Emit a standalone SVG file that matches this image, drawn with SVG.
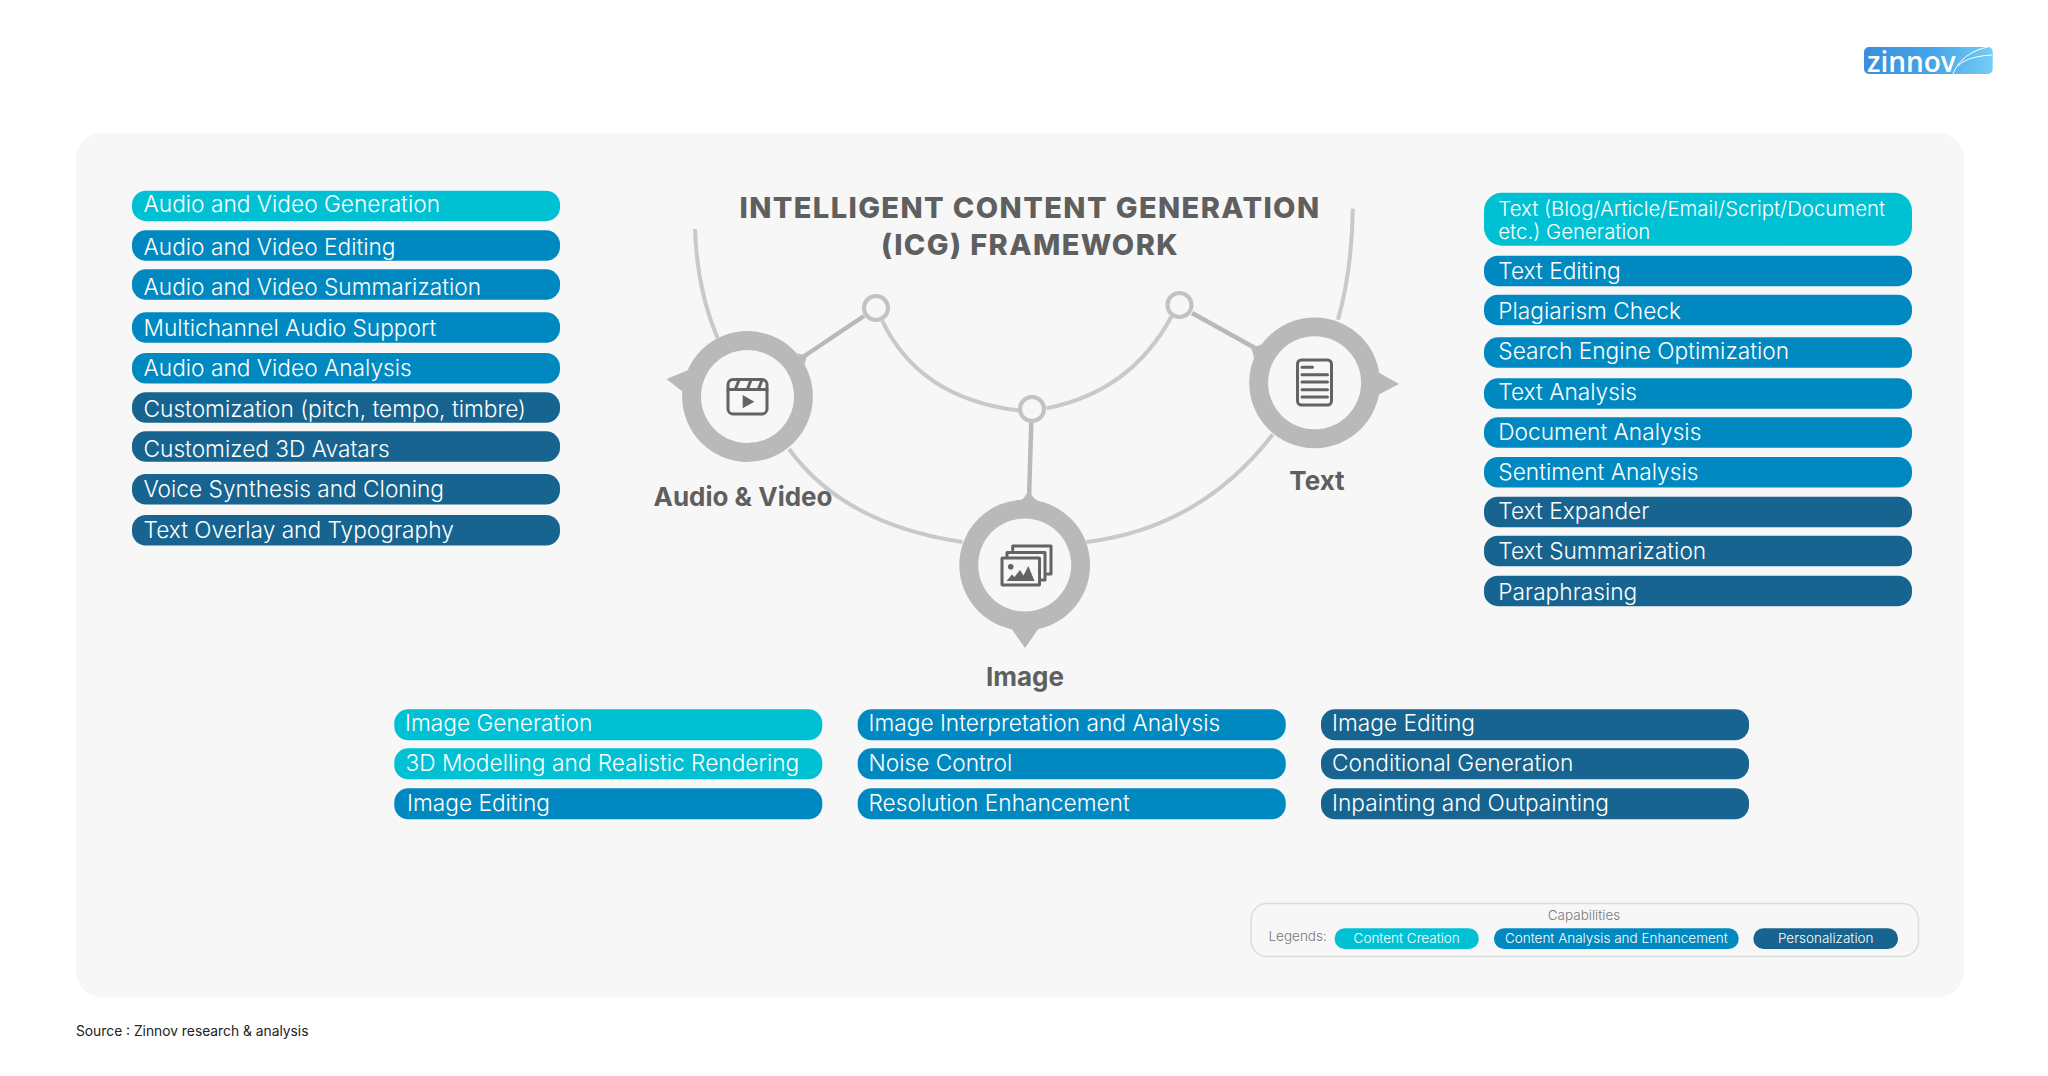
<svg xmlns="http://www.w3.org/2000/svg" width="2048" height="1076" viewBox="0 0 2048 1076">
<defs>
<linearGradient id="logoGrad" x1="0" y1="0" x2="1" y2="0"><stop offset="0" stop-color="#3a8edb"/><stop offset="0.55" stop-color="#46a6e8"/><stop offset="1" stop-color="#74cdf6"/></linearGradient>
</defs>
<style>
text{font-family:"Inter","Liberation Sans",sans-serif}
.pill{rx:14px;ry:14px}
.c{fill:#00c1d4}.b{fill:#0089c0}.d{fill:#16648f}
.t{font-size:22.700px;fill:#fff;font-weight:350}
.t2{font-size:20.400px;fill:#fff;font-weight:350}
.l{font-size:13.500px;fill:#fff;text-anchor:middle;font-weight:350}
.g{font-size:13.500px;fill:#777;font-weight:350}
.h{font-size:29px;font-weight:800;fill:#5f5f5f;text-anchor:middle;letter-spacing:1.400px}
.lab{font-size:26px;font-weight:700;fill:#5f5f5f;text-anchor:middle}
.thin{fill:none;stroke:#c9c9c9;stroke-width:4}
.thick{fill:none;stroke:#b9b9b9;stroke-width:4.500}
.big{fill:#b9b9b9}
.ic{fill:none;stroke:#636363;stroke-width:3;stroke-linejoin:round;stroke-linecap:round}
.if{fill:#636363}
</style>
<rect id="panel" x="76" y="133" width="1888" height="864" rx="26" fill="#f7f7f7"/>
<g id="logo">
<rect x="1864" y="47" width="128.700" height="27" rx="5" fill="url(#logoGrad)"/>
<text x="1867" y="71.500" style="font-family:'Open Sans','Liberation Sans',sans-serif;font-size:28px;font-weight:600" fill="#fff">zinnov</text>
<path d="M1953 74C1958 60 1972 50 1988 47M1958 66C1966 58 1978 56 1992 55" fill="none" stroke="#fff" stroke-width="1"/>
</g>
<g id="title">
<text class="h" x="1030" y="218">INTELLIGENT CONTENT GENERATION</text>
<text class="h" x="1030" y="255">(ICG) FRAMEWORK</text>
</g>
<g id="connectors">
<path class="thin" d="M695 229Q697 290 717.600 338"/>
<path class="thin" d="M1352.800 208.600Q1352 270 1338 319.800"/>
<path class="thin" d="M882.300 320.800Q919.500 398.400 1018.600 410.400"/>
<path class="thin" d="M1171.600 316.300Q1131 391.700 1046.600 408.300"/>
<path class="thin" d="M789 449Q844 524.500 962.400 542"/>
<path class="thin" d="M1272.700 434.500Q1200.500 528 1086.400 542"/>
<path class="thick" d="M794 363L864 316"/>
<path class="thick" d="M1192 313L1264 353"/>
<path class="thick" d="M1031.300 423L1028.800 505"/>
<path class="big" d="M797 353Q803 356 808.400 353.900Q805 359 805 365ZM1254 358Q1253 351 1250 345.500Q1256 347.500 1262 344ZM1020 501Q1026 497 1028.800 489Q1031 497 1038 501Z"/>
</g>
<g id="junction-a"><circle cx="876" cy="308" r="12" fill="#f7f7f7" stroke="#c2c2c2" stroke-width="4"/></g>
<g id="junction-b"><circle cx="1179.500" cy="305" r="12" fill="#f7f7f7" stroke="#c2c2c2" stroke-width="4"/></g>
<g id="junction-c"><circle cx="1032" cy="409" r="12" fill="#f7f7f7" stroke="#c2c2c2" stroke-width="4"/></g>
<g id="node-audio-video">
<path class="big" d="M691 369L666.500 379L683 392Z"/>
<circle cx="747.500" cy="396.500" r="65.400" class="big"/>
<circle cx="747.500" cy="396.500" r="46.500" fill="#f7f7f7"/>
<rect class="ic" x="728" y="379.500" width="39" height="34.500" rx="5"/>
<path class="ic" d="M728 389.500H767M739 380L735.500 389M751 380L747.500 389M762 380L758.500 389" stroke-width="2.500"/>
<path class="if" d="M742.700 395L754.300 401.700L742.700 408.300Z"/>
<text class="lab" x="743" y="506">Audio &amp; Video</text>
</g>
<g id="node-image">
<path class="big" d="M1011 628L1025 648L1039 628Z"/>
<circle cx="1024.700" cy="565" r="65.400" class="big"/>
<circle cx="1024.700" cy="565" r="46.500" fill="#f7f7f7"/>
<rect class="ic" x="1002" y="558" width="37.500" height="27" rx="0.500" stroke-width="2.500"/>
<path class="ic" d="M1007 556V552.500H1045V580H1041.500M1012.700 550V546H1051V574H1047.500" stroke-width="2.500"/>
<circle class="if" cx="1010.700" cy="566.700" r="2.800"/>
<path class="if" d="M1006.500 581L1012 574.500L1014.500 577L1020 570L1023.500 575.500L1028.300 566L1034.500 581Z"/>
<text class="lab" x="1025" y="685.500">Image</text>
</g>
<g id="node-text">
<path class="big" d="M1376 371L1399 384L1376 396Z"/>
<circle cx="1314.600" cy="382.800" r="65.400" class="big"/>
<circle cx="1314.600" cy="382.800" r="46.500" fill="#f7f7f7"/>
<rect class="ic" x="1297.500" y="360" width="34" height="45" rx="4" stroke-width="2.500"/>
<path class="ic" d="M1302 367.300H1312.500M1302 374.700H1327.500M1302 382H1327.500M1302 389.700H1327.500M1302 397H1327.500" stroke-width="2.500"/>
<text class="lab" x="1317" y="489.500">Text</text>
</g>
<g id="audio-list">
<g id="av-1"><rect class="pill c" x="132" y="190.700" width="428" height="30.500"/><text class="t" x="143.500" y="212">Audio and Video Generation</text></g>
<g id="av-2"><rect class="pill b" x="132" y="230.300" width="428" height="30.500"/><text class="t" x="143.500" y="254.500">Audio and Video Editing</text></g>
<g id="av-3"><rect class="pill b" x="132" y="269.300" width="428" height="30.500"/><text class="t" x="143.500" y="295">Audio and Video Summarization</text></g>
<g id="av-4"><rect class="pill b" x="132" y="312.300" width="428" height="30.500"/><text class="t" x="143.500" y="335.500">Multichannel Audio Support</text></g>
<g id="av-5"><rect class="pill b" x="132" y="353" width="428" height="30.500"/><text class="t" x="143.500" y="375.800">Audio and Video Analysis</text></g>
<g id="av-6"><rect class="pill d" x="132" y="392.300" width="428" height="30.500"/><text class="t" x="143.500" y="416.500">Customization (pitch, tempo, timbre)</text></g>
<g id="av-7"><rect class="pill d" x="132" y="431.300" width="428" height="30.500"/><text class="t" x="143.500" y="457">Customized 3D Avatars</text></g>
<g id="av-8"><rect class="pill d" x="132" y="474" width="428" height="30.500"/><text class="t" x="143.500" y="497">Voice Synthesis and Cloning</text></g>
<g id="av-9"><rect class="pill d" x="132" y="515" width="428" height="30.500"/><text class="t" x="143.500" y="537.800">Text Overlay and Typography</text></g>
</g>
<g id="text-list">
<g id="tx-1"><rect x="1484" y="192.700" width="428" height="53" rx="18" class="c"/><text class="t2" x="1498.300" y="215.700">Text (Blog/Article/Email/Script/Document</text><text class="t2" x="1498.300" y="239">etc.) Generation</text></g>
<g id="tx-2"><rect class="pill b" x="1484" y="255.700" width="428" height="30.500"/><text class="t" x="1498.300" y="278.500">Text Editing</text></g>
<g id="tx-3"><rect class="pill b" x="1484" y="294.700" width="428" height="30.500"/><text class="t" x="1498.300" y="318.800">Plagiarism Check</text></g>
<g id="tx-4"><rect class="pill b" x="1484" y="337.300" width="428" height="30.500"/><text class="t" x="1498.300" y="359.300">Search Engine Optimization</text></g>
<g id="tx-5"><rect class="pill b" x="1484" y="378.300" width="428" height="30.500"/><text class="t" x="1498.300" y="399.500">Text Analysis</text></g>
<g id="tx-6"><rect class="pill b" x="1484" y="417.300" width="428" height="30.500"/><text class="t" x="1498.300" y="439.800">Document Analysis</text></g>
<g id="tx-7"><rect class="pill b" x="1484" y="457" width="428" height="30.500"/><text class="t" x="1498.300" y="479.800">Sentiment Analysis</text></g>
<g id="tx-8"><rect class="pill d" x="1484" y="496.700" width="428" height="30.500"/><text class="t" x="1498.300" y="518.700">Text Expander</text></g>
<g id="tx-9"><rect class="pill d" x="1484" y="535.700" width="428" height="30.500"/><text class="t" x="1498.300" y="559">Text Summarization</text></g>
<g id="tx-10"><rect class="pill d" x="1484" y="575.700" width="428" height="30.500"/><text class="t" x="1498.300" y="599.500">Paraphrasing</text></g>
</g>
<g id="image-list">
<g id="im-1"><rect class="pill c" x="394.300" y="709.300" width="428" height="31"/><text class="t" x="405" y="731">Image Generation</text></g>
<g id="im-2"><rect class="pill c" x="394.300" y="748.300" width="428" height="31"/><text class="t" x="405.500" y="771">3D Modelling and Realistic Rendering</text></g>
<g id="im-3"><rect class="pill b" x="394.300" y="788.300" width="428" height="31"/><text class="t" x="407" y="811">Image Editing</text></g>
<g id="im-4"><rect class="pill b" x="857.700" y="709.300" width="428" height="31"/><text class="t" x="868.500" y="731">Image Interpretation and Analysis</text></g>
<g id="im-5"><rect class="pill b" x="857.700" y="748.300" width="428" height="31"/><text class="t" x="868.500" y="771">Noise Control</text></g>
<g id="im-6"><rect class="pill b" x="857.700" y="788.300" width="428" height="31"/><text class="t" x="868.500" y="811">Resolution Enhancement</text></g>
<g id="im-7"><rect class="pill d" x="1321" y="709.300" width="428" height="31"/><text class="t" x="1332" y="731">Image Editing</text></g>
<g id="im-8"><rect class="pill d" x="1321" y="748.300" width="428" height="31"/><text class="t" x="1332" y="771">Conditional Generation</text></g>
<g id="im-9"><rect class="pill d" x="1321" y="788.300" width="428" height="31"/><text class="t" x="1332" y="811">Inpainting and Outpainting</text></g>
</g>
<g id="legend">
<rect x="1251" y="903.500" width="667.500" height="53" rx="16" fill="none" stroke="#dcdcdc" stroke-width="1.500"/>
<text class="g" x="1584" y="920" text-anchor="middle">Capabilities</text>
<text class="g" x="1268.500" y="940.500">Legends:</text>
<rect x="1334.600" y="928.300" width="144.200" height="20.700" rx="10" class="c"/><text class="l" x="1406.700" y="942.700">Content Creation</text>
<rect x="1494" y="928.300" width="244.700" height="20.700" rx="10" class="b"/><text class="l" x="1616.300" y="942.700">Content Analysis and Enhancement</text>
<rect x="1753.400" y="928.300" width="144.600" height="20.700" rx="10" class="d"/><text class="l" x="1825.700" y="942.700">Personalization</text>
</g>
<text id="source" x="76" y="1036" font-size="13.800" fill="#222">Source : Zinnov research &amp; analysis</text>
</svg>
